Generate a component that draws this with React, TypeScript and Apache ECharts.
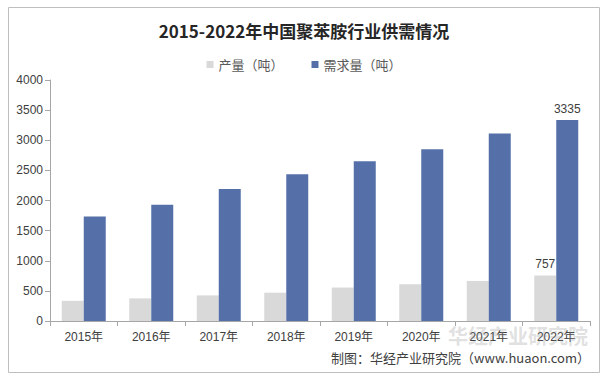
import React, { useEffect, useRef } from "react";
import * as echarts from "echarts";

const categories = ["2015年", "2016年", "2017年", "2018年", "2019年", "2020年", "2021年", "2022年"];
const production = [335, 375, 425, 470, 555, 610, 665, 757];
const demand = [1735, 1930, 2190, 2435, 2650, 2850, 3110, 3335];
const yTicks = [0, 500, 1000, 1500, 2000, 2500, 3000, 3500, 4000];

export default function App() {
  const ref = useRef<HTMLDivElement>(null);
  useEffect(() => {
    const chart = echarts.init(ref.current!, null, { renderer: "svg" });
    const last = categories.length - 1;
    chart.setOption({
      animation: false,
      backgroundColor: "#ffffff",
      textStyle: { fontFamily: "'Liberation Sans', 'Noto Sans CJK SC', sans-serif" },
      title: {
        text: "2015-2022年中国聚苯胺行业供需情况",
        left: "center",
        top: 17,
        textStyle: { fontSize: 17, fontWeight: "bold", color: "#262626", fontFamily: "'Noto Sans CJK SC', serif" },
      },
      legend: {
        top: 53,
        left: "center",
        itemWidth: 7,
        itemHeight: 7,
        itemGap: 28,
        icon: "rect",
        textStyle: { fontSize: 13, color: "#595959", fontFamily: "'Noto Sans CJK SC', sans-serif" },
        data: ["产量（吨）", "需求量（吨）"],
      },
      grid: { left: 50, right: 18, top: 80, bottom: 63 },
      xAxis: {
        type: "category",
        data: categories,
        axisLine: { lineStyle: { color: "#a6a6a6" } },
        axisTick: { show: true, alignWithLabel: false, length: 5, lineStyle: { color: "#a6a6a6" } },
        axisLabel: { color: "#404040", fontSize: 12, margin: 10 },
      },
      yAxis: {
        type: "value",
        min: yTicks[0],
        max: yTicks[yTicks.length - 1],
        interval: 500,
        splitLine: { show: false },
        axisLine: { show: true, lineStyle: { color: "#a6a6a6" } },
        axisTick: { show: true, length: 5, lineStyle: { color: "#a6a6a6" } },
        axisLabel: { color: "#404040", fontSize: 12, margin: 7, formatter: (v: number) => String(v) },
      },
      series: [
        {
          name: "产量（吨）",
          type: "bar",
          barWidth: 22,
          barGap: "0%",
          itemStyle: { color: "#d9d9d9" },
          data: production.map((v, i) => ({
            value: v,
            label: i === last ? { show: true, position: "top", color: "#404040", fontSize: 12, distance: 5 } : { show: false },
          })),
        },
        {
          name: "需求量（吨）",
          type: "bar",
          barWidth: 22,
          barGap: "0%",
          itemStyle: { color: "#5570a8" },
          data: demand.map((v, i) => ({
            value: v,
            label: i === last ? { show: true, position: "top", color: "#404040", fontSize: 12, distance: 5 } : { show: false },
          })),
        },
      ],
      graphic: [
        {
          type: "rect",
          shape: { x: 8.5, y: 7.5, width: 591, height: 365 },
          style: { fill: "none", stroke: "#bfbfbf", lineWidth: 1 },
          silent: true,
          z: -1,
        },
        {
          type: "text",
          right: 20,
          top: 325,
          style: {
            text: "华经产业研究院",
            fill: "rgba(150,150,150,0.3)",
            font: "bold 20px 'Noto Sans CJK SC', sans-serif",
          },
          z: 10,
        },
        {
          type: "text",
          right: 18,
          top: 351,
          style: {
            text: "制图：华经产业研究院（www.huaon.com）",
            fill: "#404040",
            font: "13px 'Noto Sans CJK SC', sans-serif",
          },
        },
      ],
    });
    return () => chart.dispose();
  }, []);
  return <div ref={ref} style={{ position: "absolute", left: 0, top: 0, width: 608, height: 384 }} />;
}
